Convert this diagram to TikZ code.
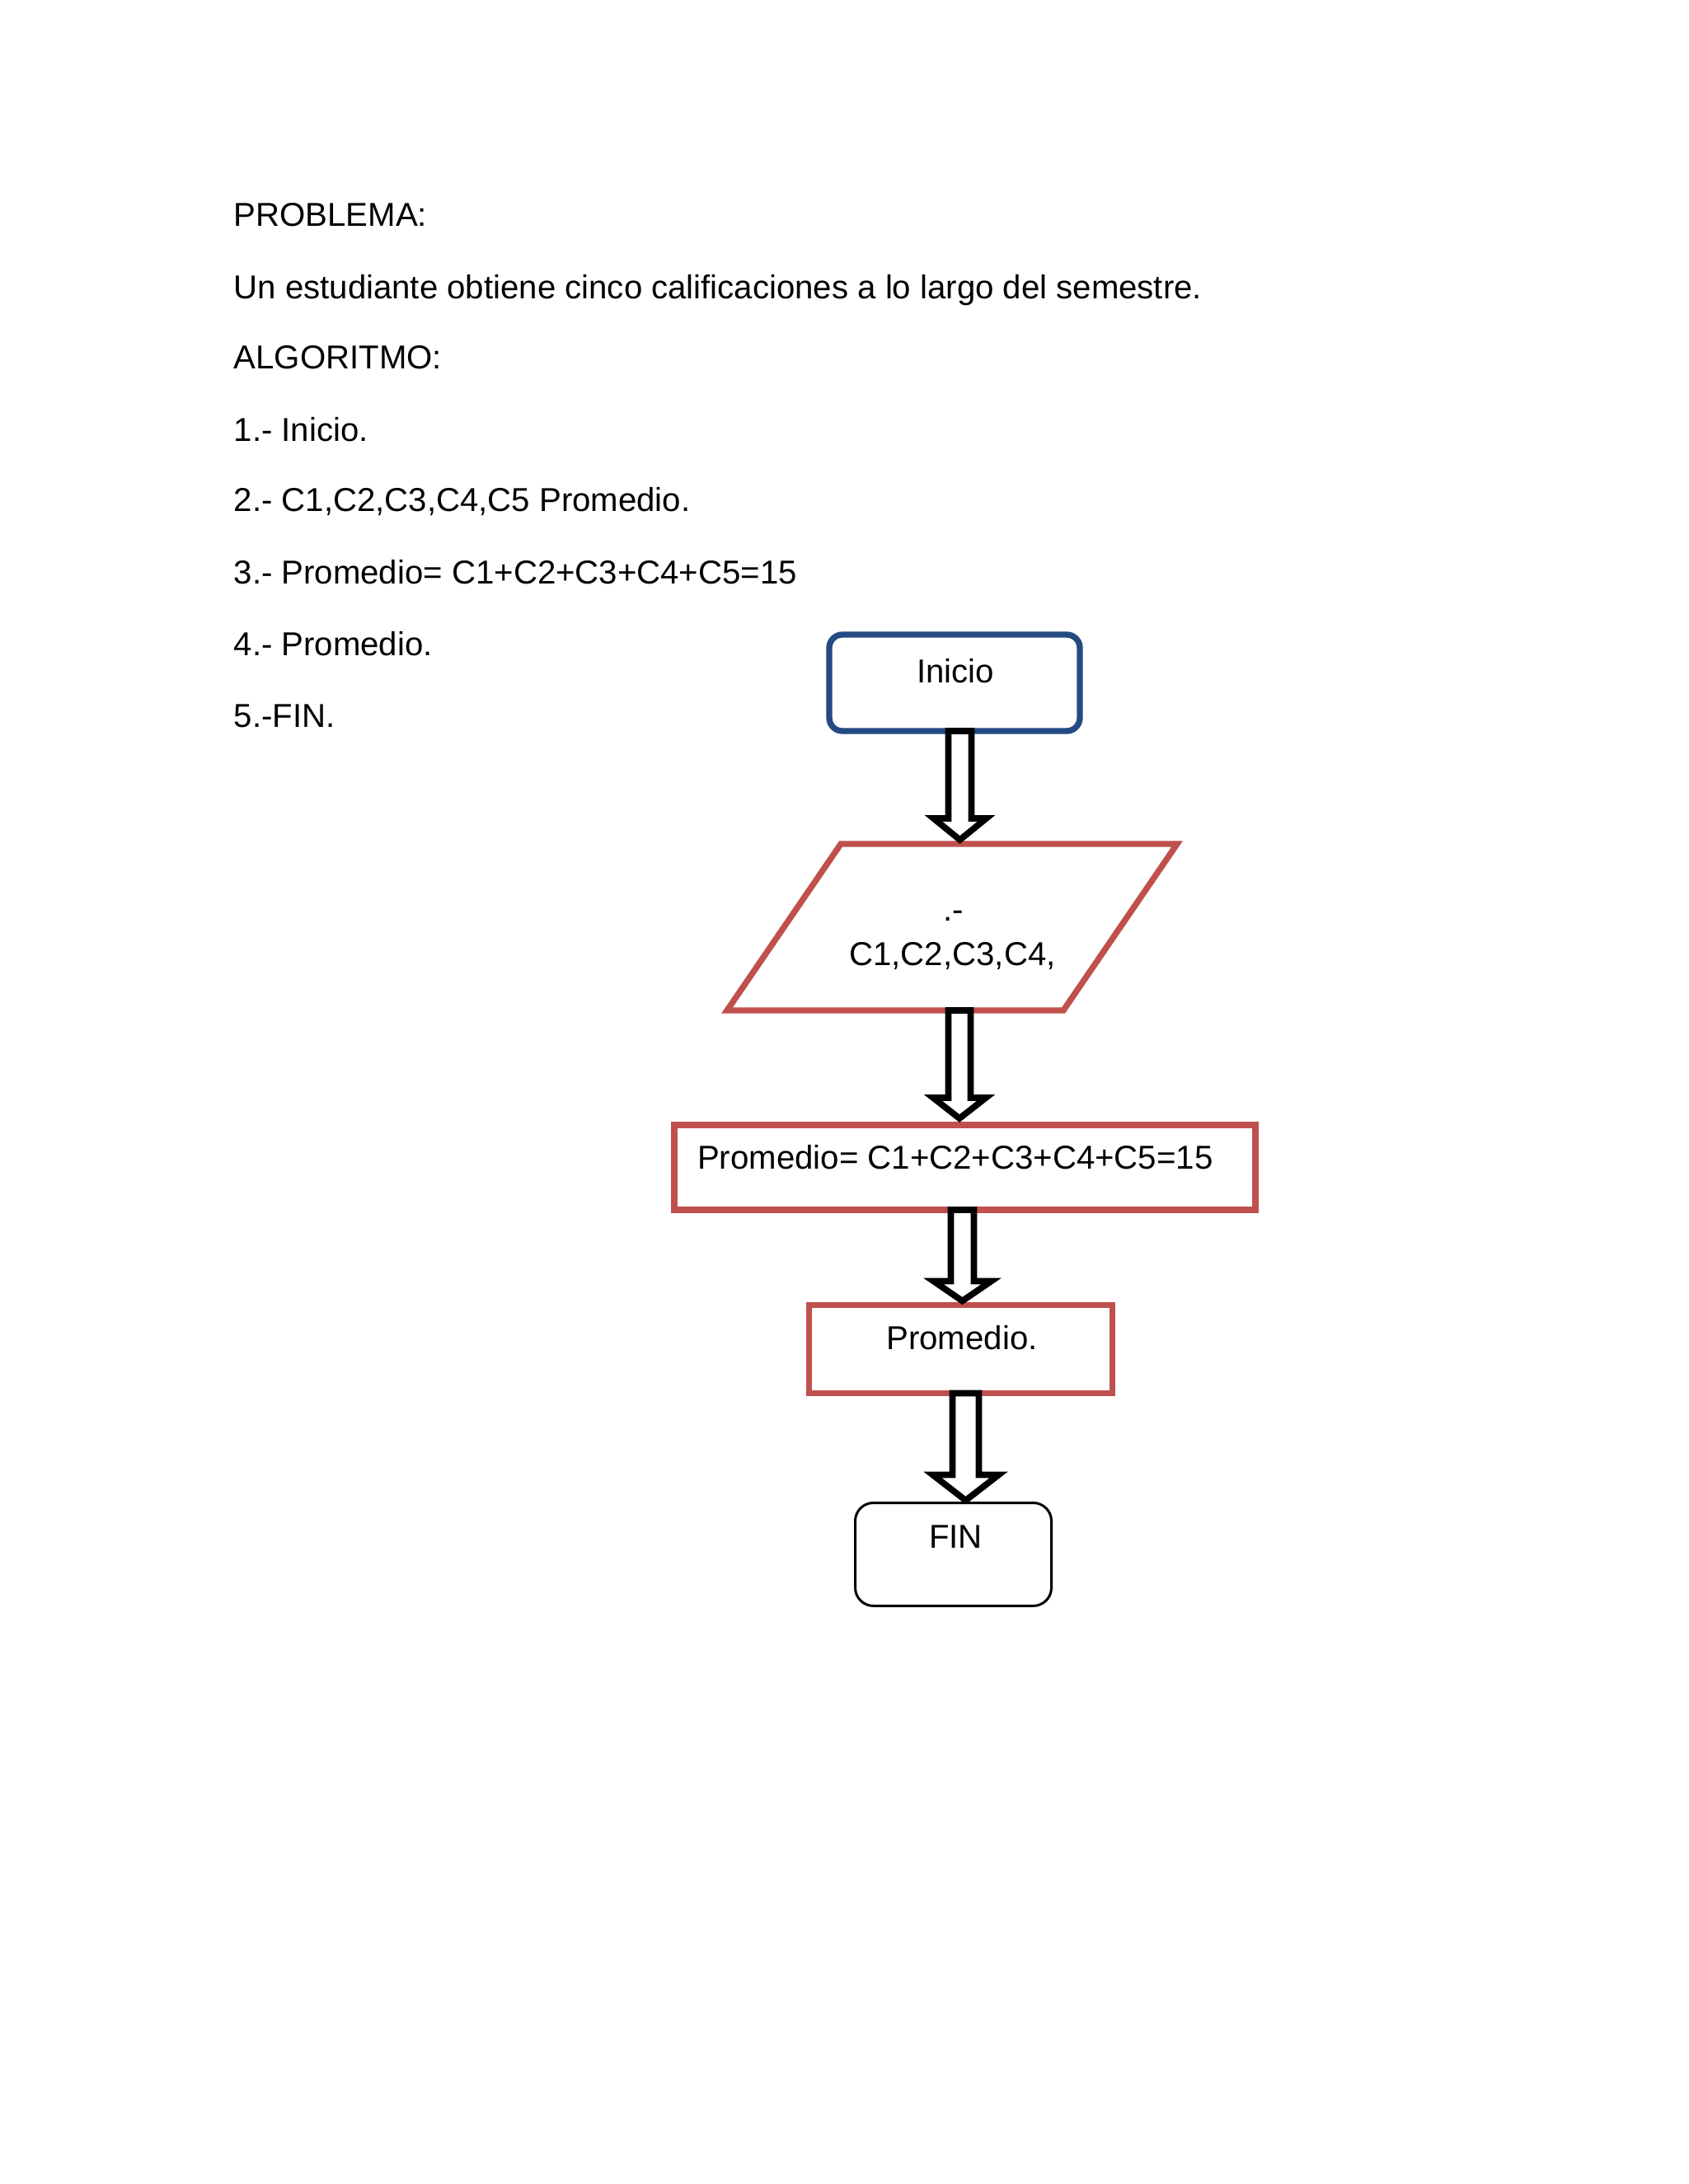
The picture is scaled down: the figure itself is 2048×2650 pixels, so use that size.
\documentclass[tikz,border=0pt]{standalone}
\usepackage{fontspec}
\setmainfont{Liberation Sans}
\usetikzlibrary{calc}
\newcommand{\pxu}{0.29995pt}
\definecolor{inicioblue}{RGB}{36,74,130}
\definecolor{boxred}{RGB}{192,80,77}
\tikzset{
  body/.style={font=\fontsize{12.05pt}{14pt}\selectfont, inner sep=0pt, anchor=base west},
  lbl/.style={font=\fontsize{12.05pt}{14pt}\selectfont, inner sep=0pt, anchor=base},
  shapebox/.style={rectangle, inner sep=0pt, outer sep=0pt},
  startbox/.style={shapebox, draw=inicioblue, line width=2.2pt, rounded corners=4.8pt, fill=white},
  redbox/.style={shapebox, draw=boxred, line width=2.2pt, fill=white},
  endbox/.style={shapebox, draw=black, line width=0.9pt, rounded corners=6.6pt, fill=white},
  redline/.style={draw=boxred, line width=2.2pt, fill=white, line join=miter},
  barrow/.style={draw=black, line width=2.3pt, fill=white, line join=miter},
}
% #1 start coordinate, #2 tip coordinate, #3 shaft half width, #4 head half width, #5 head length
\newcommand{\blockarrow}[5]{%
  \draw[barrow] ($(#1)+(-#3,0)$) -- ($(#2)+(-#3,-#5)$) -- ($(#2)+(-#4,-#5)$) -- (#2)
    -- ($(#2)+(#4,-#5)$) -- ($(#2)+(#3,-#5)$) -- ($(#1)+(#3,0)$) -- cycle;}

\begin{document}
\begin{tikzpicture}[x=\pxu, y=-\pxu]
\fill[white] (0,0) rectangle (2048,2650);
\useasboundingbox (0,0) rectangle (2048,2650);

% ---- text of the page ----
\node[body] (t0) at (283,274) {PROBLEMA:};
\node[body] (t1) at (283,362) {Un estudiante obtiene cinco calificaciones a lo largo del semestre.};
\node[body] (t2) at (283,447) {ALGORITMO:};
\node[body] (t3) at (283,535) {1.- Inicio.};
\node[body] (t4) at (283,620) {2.- C1,C2,C3,C4,C5 Promedio.};
\node[body] (t5) at (283,708) {3.- Promedio= C1+C2+C3+C4+C5=15};
\node[body] (t6) at (283,795) {4.- Promedio.};
\node[body] (t7) at (283,882) {5.-FIN.};

% ---- flowchart shapes ----
\node[startbox, minimum width=304*\pxu, minimum height=117*\pxu] (inicio) at (1158,828.5) {};
\node[shapebox, minimum width=546*\pxu, minimum height=202*\pxu] (datos) at (1155,1125) {};
\draw[redline] (datos.south west) -- ($(datos.north west)+(138,0)$) -- (datos.north east)
  -- ($(datos.south east)+(-138,0)$) -- cycle;
\node[redbox, minimum width=705*\pxu, minimum height=103*\pxu] (calc) at (1170.5,1416.5) {};
\node[redbox, minimum width=368*\pxu, minimum height=107*\pxu] (salida) at (1165.5,1637) {};
\node[endbox, minimum width=238*\pxu, minimum height=125*\pxu] (fin) at (1156.5,1886) {};

% ---- labels ----
\node[lbl] (linicio) at (1159,828) {Inicio};
\node[lbl] (ldatosa) at (1156.5,1117) {.-};
\node[lbl] (ldatosb) at (1155.5,1171) {C1,C2,C3,C4,};
\node[body] (lcalc) at (845.5,1418) {Promedio= C1+C2+C3+C4+C5=15};
\node[lbl] (lsalida) at (1167,1637) {Promedio.};
\node[lbl] (lfin) at (1159.5,1878) {FIN};

% ---- block arrows ----
\coordinate (a1s) at ($(inicio.south)+(6.5,0)$);
\coordinate (a1e) at ($(datos.north)+(9.5,-5)$);
\coordinate (a2s) at ($(datos.south)+(9,0)$);
\coordinate (a2e) at ($(calc.north)+(-6.5,-8)$);
\coordinate (a3s) at ($(calc.south)+(-3,0)$);
\coordinate (a3e) at ($(salida.north)+(2,-5)$);
\coordinate (a4s) at ($(salida.south)+(6,0)$);
\coordinate (a4e) at ($(fin.north)+(15,-3)$);
\blockarrow{a1s}{a1e}{14}{32}{26}
\blockarrow{a2s}{a2e}{13.5}{32}{25}
\blockarrow{a3s}{a3e}{14}{35}{24}
\blockarrow{a4s}{a4e}{16}{40}{31}
\end{tikzpicture}
\end{document}
